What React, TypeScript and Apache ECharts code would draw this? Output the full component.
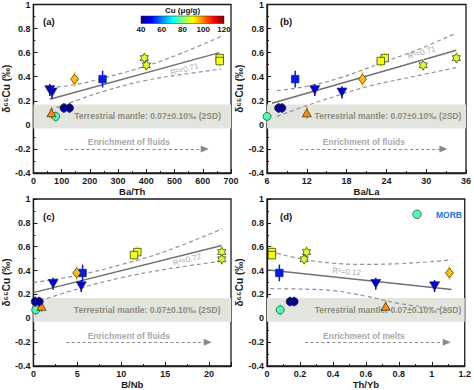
import React, { useEffect, useRef } from 'react';
import * as echarts from 'echarts';

const FONT = '"Liberation Sans", Arial, Helvetica, sans-serif';

// ---- sample data (one entry per sample) ----
const sampleShapes = ['invTri', 'invTri', 'square', 'circle', 'circle', 'circle', 'triangle', 'diamond', 'square', 'square', 'star', 'star'];
const sampleCu = [47, 47, 52, 42, 42, 76, 99, 95, 89, 89, 87, 87];
const d65Cu = [0.29, 0.27, 0.38, 0.14, 0.14, 0.07, 0.10, 0.38, 0.555, 0.53, 0.555, 0.495];
const d65CuErr = [0.05, 0.05, 0.07, 0.04, 0.04, 0.05, 0.05, 0.06, 0.05, 0.05, 0.05, 0.05];
const baTh = [58, 66, 245, 108, 128, 79, 64, 146, 660, 660, 393, 400];
const baLa = [13.2, 17.3, 10.25, 7.75, 8.25, 6.0, 12.0, 20.4, 23.75, 23.15, 34.55, 29.55];
const bNb = [2.24, 5.45, 5.6, 0.2, 0.67, 0.26, 0.93, 4.93, 11.83, 11.45, 21.45, 21.45];
const thYb = [0.66, 1.017, 0.075, 0.14, 0.165, 0.08, 0.72, 1.107, 0.03, 0.03, 0.24, 0.225];
const drawOrder = [5, 6, 3, 4, 0, 1, 2, 7, 8, 9, 10, 11];

// ---- regression lines and confidence bands ----
const regA = [[58, 0.212], [659, 0.60]];
const upperA = [[58, 0.31], [150, 0.335], [250, 0.39], [400, 0.49], [530, 0.6], [665, 0.735]];
const lowerA = [[58, 0.124], [150, 0.2], [250, 0.28], [400, 0.37], [530, 0.42], [665, 0.463]];
const regB = [[6.75, 0.179], [34.55, 0.62]];
const upperB = [[7.5, 0.284], [12, 0.32], [17, 0.39], [23.5, 0.52], [29, 0.63], [34.5, 0.763]];
const lowerB = [[7.5, 0.07], [12, 0.16], [17, 0.25], [22, 0.33], [28, 0.4], [34.5, 0.476]];
const regC = [[0, 0.215], [21.45, 0.61]];
const upperC = [[0, 0.30], [5, 0.36], [10, 0.45], [15, 0.56], [21.5, 0.75]];
const lowerC = [[0, 0.13], [5, 0.245], [10, 0.34], [15, 0.41], [21.5, 0.48]];
const regD = [[0.01, 0.405], [1.12, 0.242]];
const upperD = [[0.02, 0.56], [0.2, 0.5], [0.4, 0.462], [0.6, 0.452], [0.8, 0.458], [1.0, 0.475], [1.12, 0.49]];
const lowerD = [[0.02, 0.248], [0.2, 0.245], [0.4, 0.232], [0.6, 0.185], [0.8, 0.125], [1.0, 0.085], [1.12, 0.06]];

// ---- texts ----
const r2Texts = ['R²=0.71', 'R²=0.71', 'R²=0.72', 'R²=0.12'];
const xNames = ['Ba/Th', 'Ba/La', 'B/Nb', 'Th/Yb'];
const panelLetters = ['(a)', '(b)', '(c)', '(d)'];
const arrowTexts = ['Enrichment of fluids', 'Enrichment of fluids', 'Enrichment of fluids', 'Enrichment of melts'];
const mantleText = 'Terrestrial mantle: 0.07±0.10‰ (2SD)';
const yName = 'δ⁶⁵Cu (‰)';
const cuTicks = [40, 60, 80, 100, 120];
const mantleBand = [-0.03, 0.17];

const JET = ['#00007f', '#0000ff', '#007fff', '#00ffff', '#7fff7f', '#ffff00', '#ff7f00', '#ff0000', '#7f0000'];
const CU_MIN = 40;
const CU_MAX = 120;

function jetColor(v: number) {
  const t = Math.max(0, Math.min(1, (v - CU_MIN) / (CU_MAX - CU_MIN))) * 8;
  const i = Math.min(7, Math.floor(t));
  const f = t - i;
  const a = JET[i], b = JET[i + 1];
  const p = (s: string, k: number) => parseInt(s.substr(1 + 2 * k, 2), 16);
  const c = [0, 1, 2].map((k) => Math.round(p(a, k) + (p(b, k) - p(a, k)) * f));
  return `rgb(${c[0]},${c[1]},${c[2]})`;
}

const STAR = 'path://M0,-10L2.887,-5L8.66,-5L5.774,0L8.66,5L2.887,5L0,10L-2.887,5L-8.66,5L-5.774,0L-8.66,-5L-2.887,-5Z';
const SYM: Record<string, any> = {
  circle: { symbol: 'circle', symbolSize: 8 },
  square: { symbol: 'rect', symbolSize: 7.5 },
  triangle: { symbol: 'triangle', symbolSize: [9, 8] },
  invTri: { symbol: 'triangle', symbolSize: [10, 8.5], symbolRotate: 180 },
  diamond: { symbol: 'diamond', symbolSize: [8, 10] },
  star: { symbol: STAR, symbolSize: 9.5, symbolKeepAspect: true },
};

const panels = [
  { x: baTh, min: 0, max: 700, interval: 100, reg: regA, up: upperA, lo: lowerA, r2Pos: [535, 0.46], r2Rot: 15, mantleX: 143, arrow: [110, 607], arrowTextX: 338 },
  { x: baLa, min: 6, max: 36, interval: 6, reg: regB, up: upperB, lo: lowerB, r2Pos: [29.3, 0.6], r2Rot: 16, mantleX: 13.1, arrow: [11, 32.6], arrowTextX: 20.6 },
  { x: bNb, min: 0, max: 22.5, interval: 5, reg: regC, up: upperC, lo: lowerC, r2Pos: [17.5, 0.49], r2Rot: 14, mantleX: 4.55, arrow: [3.73, 19.85], arrowTextX: 10.86 },
  { x: thYb, min: 0, max: 1.2, interval: 0.2, reg: regD, up: upperD, lo: lowerD, r2Pos: [0.483, 0.39], r2Rot: -5, mantleX: 0.286, arrow: [0.23, 1.091], arrowTextX: 0.588 },
];

const gridBoxes = [
  { left: 30, top: 4, width: 201, height: 169 },
  { left: 267, top: 4, width: 200, height: 169 },
  { left: 30, top: 199, width: 201, height: 169 },
  { left: 267, top: 199, width: 200, height: 169 },
];

const INK = '#1a1a1a';

function buildOption() {
  const grid = gridBoxes.map((g) => ({ ...g, show: true, borderColor: INK, borderWidth: 1.3, backgroundColor: 'transparent' }));
  const fmt = (v: number) => String(Math.round(v * 1000) / 1000);
  const xAxis = panels.map((p, i) => ({
    gridIndex: i, type: 'value', min: p.min, max: p.max, interval: p.interval,
    name: xNames[i], nameLocation: 'middle', nameGap: 13,
    nameTextStyle: { fontFamily: FONT, fontWeight: 'bold', fontSize: 9.5, color: INK },
    axisLine: { show: true, onZero: false, lineStyle: { color: INK, width: 1.3 } },
    axisTick: { show: true, inside: true, length: 4, lineStyle: { color: INK } },
    minorTick: { show: true, splitNumber: 2, length: 2, lineStyle: { color: INK } },
    splitLine: { show: false },
    axisLabel: {
      fontFamily: FONT, fontWeight: 'bold', fontSize: 9, color: INK, margin: 3,
      formatter: (v: number) => {
        const k = (v - p.min) / p.interval;
        return Math.abs(k - Math.round(k)) < 1e-6 ? fmt(v) : '';
      },
    },
  }));
  const yAxis = panels.map((_, i) => ({
    gridIndex: i, type: 'value', min: -0.4, max: 1, interval: 0.2,
    name: yName, nameLocation: 'middle', nameGap: 18, nameRotate: 90,
    nameTextStyle: { fontFamily: FONT, fontWeight: 'bold', fontSize: 10, color: INK },
    axisLine: { show: true, onZero: false, lineStyle: { color: INK, width: 1.3 } },
    axisTick: { show: true, inside: true, length: 4, lineStyle: { color: INK } },
    minorTick: { show: true, splitNumber: 2, length: 2, lineStyle: { color: INK } },
    splitLine: { show: false },
    axisLabel: { fontFamily: FONT, fontWeight: 'bold', fontSize: 9, color: INK, margin: 3, formatter: fmt },
  }));

  const series: any[] = [];
  const colored: number[] = [];
  panels.forEach((p, i) => {
    const ax = { xAxisIndex: i, yAxisIndex: i };
    series.push({
      type: 'scatter', ...ax, z: 1, silent: true, symbolSize: 1,
      itemStyle: { color: 'transparent' },
      label: { show: true, position: 'inside', formatter: '{b}', fontFamily: FONT },
      data: [
        { name: r2Texts[i], value: p.r2Pos, label: { rotate: p.r2Rot, color: '#8c8c8c', fontSize: 8 } },
        { name: mantleText, value: [p.mantleX, 0.07], label: { position: 'right', distance: 0, color: '#77715f', fontWeight: 'bold', fontSize: 8.5 } },
        { name: arrowTexts[i], value: [p.arrowTextX, -0.145], label: { color: '#8f8f8f', fontWeight: 'bold', fontSize: 8.5 } },
      ],
      markArea: {
        silent: true, itemStyle: { color: '#e1e5dd' }, label: { show: false },
        data: [[{ yAxis: mantleBand[0] }, { yAxis: mantleBand[1] }]],
      },
      markLine: {
        silent: true, symbol: ['none', 'triangle'], symbolSize: [7, 8],
        itemStyle: { color: '#9a9a9a' },
        lineStyle: { color: '#8a8a8a', type: [3, 2.5], width: 1.2 },
        label: { show: false },
        data: [[{ coord: [p.arrow[0], -0.2] }, { coord: [p.arrow[1], -0.2] }]],
      },
    });
    [p.up, p.lo].forEach((d) => series.push({
      type: 'line', ...ax, z: 2, silent: true, data: d, smooth: 0.4, showSymbol: false, symbol: 'none',
      lineStyle: { color: '#9090a0', type: [4, 3], width: 1.2 },
    }));
    series.push({
      type: 'line', ...ax, z: 2, silent: true, data: p.reg, showSymbol: false, symbol: 'none',
      lineStyle: { color: '#707078', width: 1.5 },
    });
    colored.push(series.length);
    series.push({
      type: 'custom', ...ax, z: 3, silent: true, clip: false,
      encode: { x: 0, y: 1 },
      data: drawOrder.map((k) => [p.x[k], d65Cu[k], sampleCu[k], d65CuErr[k]]),
      renderItem: (_params: any, api: any) => {
        const x = api.value(0), y = api.value(1), e = api.value(3);
        const a = api.coord([x, y - e]);
        const b = api.coord([x, y + e]);
        return { type: 'line', shape: { x1: a[0], y1: a[1], x2: b[0], y2: b[1] }, style: { stroke: api.visual('color'), lineWidth: 1.5 } };
      },
    });
    colored.push(series.length);
    series.push({
      type: 'scatter', ...ax, z: 4, silent: true, clip: false,
      itemStyle: { borderColor: '#2a2a2a', borderWidth: 0.7, opacity: 1 },
      data: drawOrder.map((k) => ({ value: [p.x[k], d65Cu[k], sampleCu[k]], ...SYM[sampleShapes[k]] })),
    });
  });

  const cbX = 141, cbY = 16, cbW = 83, cbH = 7.5;
  const graphic: any[] = [
    {
      type: 'rect', shape: { x: cbX, y: cbY, width: cbW, height: cbH },
      style: {
        fill: new echarts.graphic.LinearGradient(0, 0, 1, 0, JET.map((c, i) => ({ offset: i / 8, color: c }))),
        stroke: '#222', lineWidth: 0.5,
      },
    },
    { type: 'text', x: cbX + cbW / 2, y: 10, style: { text: 'Cu (μg/g)', fontFamily: FONT, fontWeight: 'bold', fontSize: 8, fill: '#111', align: 'center', verticalAlign: 'middle' } },
    ...cuTicks.map((v) => ({
      type: 'text', x: cbX + ((v - CU_MIN) / (CU_MAX - CU_MIN)) * cbW, y: 29,
      style: { text: String(v), fontFamily: FONT, fontWeight: 'bold', fontSize: 8, fill: '#111', align: 'center', verticalAlign: 'middle' },
    })),
    ...panelLetters.map((t, i) => ({
      type: 'text', x: gridBoxes[i].left + 13, y: gridBoxes[i].top + 17,
      style: { text: t, fontFamily: FONT, fontWeight: 'bold', fontSize: 9.5, fill: '#111', align: 'left', verticalAlign: 'middle' },
    })),
    { type: 'circle', shape: { cx: 417, cy: 214.3, r: 4.2 }, style: { fill: jetColor(sampleCu[5]), stroke: '#333', lineWidth: 0.7 } },
    { type: 'text', x: 436, y: 214.5, style: { text: 'MORB', fontFamily: FONT, fontWeight: 'bold', fontSize: 8.5, fill: '#1e74e0', align: 'left', verticalAlign: 'middle' } },
  ];

  return {
    animation: false,
    backgroundColor: '#ffffff',
    textStyle: { fontFamily: FONT },
    grid, xAxis, yAxis, series, graphic,
    visualMap: {
      type: 'continuous', show: false, min: CU_MIN, max: CU_MAX, dimension: 2,
      seriesIndex: colored, inRange: { color: JET },
    },
  };
}

export default function App() {
  const ref = useRef<HTMLDivElement>(null);
  useEffect(() => {
    const chart = echarts.init(ref.current!, null, { renderer: 'svg' });
    chart.setOption(buildOption() as any);
    return () => chart.dispose();
  }, []);
  return <div ref={ref} style={{ position: 'absolute', left: 0, top: 0, width: 474, height: 390 }} />;
}
